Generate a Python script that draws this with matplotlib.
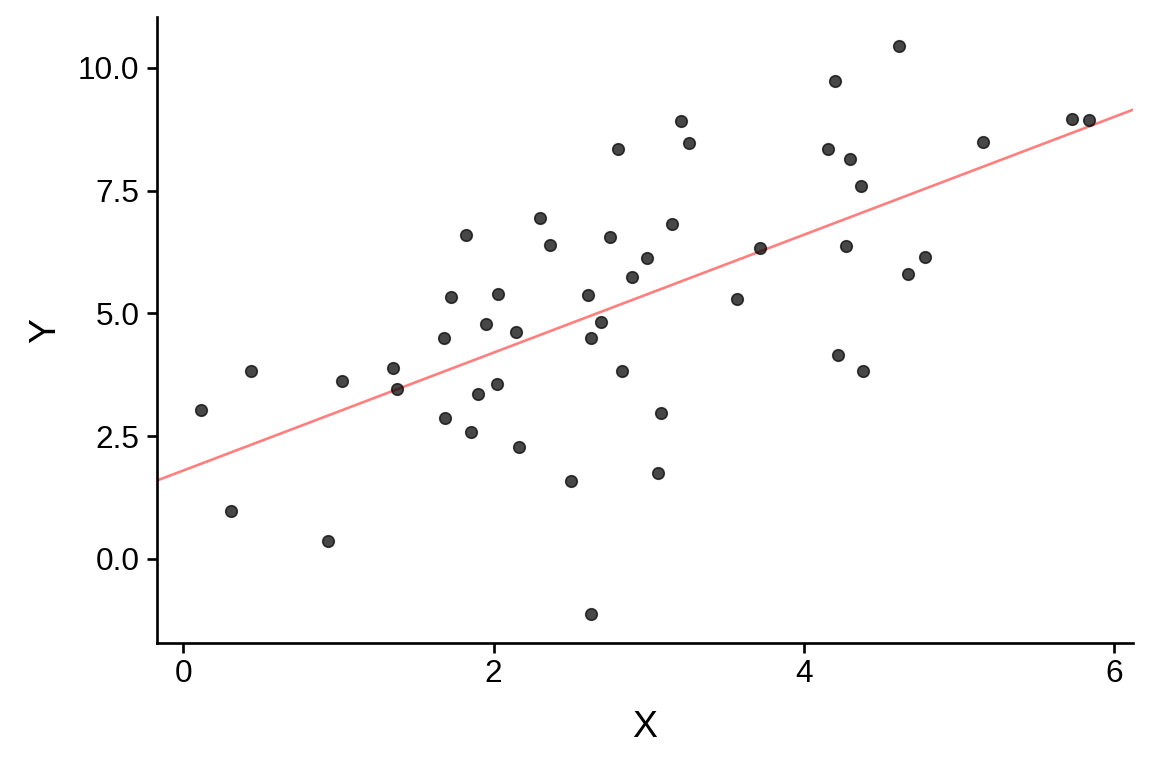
import numpy as np
import matplotlib
matplotlib.use("Agg")
import matplotlib.pyplot as plt
from matplotlib.ticker import FormatStrFormatter

plt.rcParams['font.family'] = ['Liberation Sans', 'DejaVu Sans']

# points
x = [0.114, 0.307, 0.436, 0.930, 1.020, 1.353, 1.379, 1.680, 1.684, 1.725,
     1.823, 1.856, 1.901, 1.948, 2.019, 2.028, 2.146, 2.165, 2.298, 2.363,
     2.500, 2.607, 2.631, 2.631, 2.691, 2.751, 2.805, 2.829, 2.893, 2.990,
     3.058, 3.082, 3.149, 3.207, 3.262, 3.567, 3.718, 4.158, 4.199, 4.220,
     4.272, 4.298, 4.366, 4.379, 4.616, 4.674, 4.783, 5.157, 5.730, 5.836]
y = [3.04, 0.98, 3.82, 0.37, 3.62, 3.89, 3.45, 4.49, 2.87, 5.34,
     6.60, 2.59, 3.35, 4.79, 3.56, 5.39, 4.63, 2.27, 6.95, 6.40,
     1.59, 5.37, 4.50, -1.13, 4.83, 6.56, 8.35, 3.83, 5.75, 6.12,
     1.74, 2.97, 6.82, 8.92, 8.46, 5.30, 6.33, 8.35, 9.73, 4.15,
     6.37, 8.15, 7.59, 3.82, 10.45, 5.81, 6.15, 8.48, 8.96, 8.94]

intercept = 1.80
slope = 1.20

xticks = [0, 2, 4, 6]
yticks = [0.0, 2.5, 5.0, 7.5, 10.0]

fig = plt.figure(figsize=(6, 4), dpi=192)
ax = fig.add_axes([0.136, 0.163, 0.8475, 0.8145])

ax.scatter(x, y, s=19, color='black', alpha=0.72, edgecolors='black',
           linewidths=0.6, zorder=3)

# ggplot-style 5% expansion
xr = max(x) - min(x)
yr = max(y) - min(y)
ax.set_xlim(min(x) - 0.05 * xr, max(x) + 0.05 * xr)
ax.set_ylim(min(y) - 0.05 * yr, max(y) + 0.05 * yr)

ax.axline((0, intercept), slope=slope, color='#ff0000', alpha=0.5,
          linewidth=1.0, zorder=2)

ax.set_xticks(xticks)
ax.set_yticks(yticks)
ax.yaxis.set_major_formatter(FormatStrFormatter('%.1f'))

for side in ['top', 'right']:
    ax.spines[side].set_visible(False)
for side in ['left', 'bottom']:
    ax.spines[side].set_linewidth(1.0)
ax.tick_params(length=3.75, width=1.0, labelsize=11.8, colors='black')
ax.tick_params(axis='x', pad=2.2)
ax.tick_params(axis='y', pad=2.7)

ax.set_xlabel('X', fontsize=14, labelpad=8.0)
ax.set_ylabel('Y', fontsize=14, labelpad=5.6)

plt.savefig("out.png", dpi=192)
